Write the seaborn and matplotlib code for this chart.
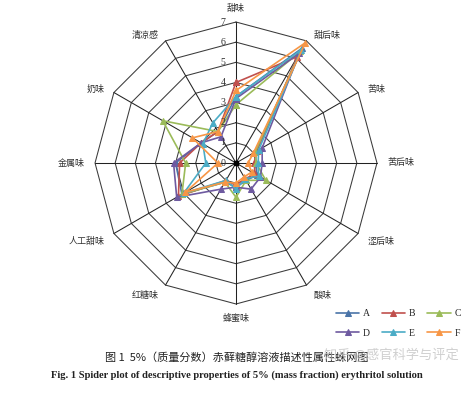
import numpy as np
import pandas as pd
import matplotlib
matplotlib.use("Agg")
import matplotlib.pyplot as plt
import seaborn as sns

# axes of the spider plot, clockwise from the top
attributes = ['甜味', '甜后味', '苦味', '苦后味', '涩后味', '酸味',
              '蜂蜜味', '红糖味', '人工甜味', '金属味', '奶味', '清凉感']

sample_a = [3.3, 6.6, 1.1, 1.0, 1.2, 1.0, 1.2, 1.1, 3.1, 3.0, 2.0, 1.8]
sample_b = [4.0, 6.1, 1.2, 0.9, 1.1, 0.9, 1.1, 1.0, 3.3, 2.8, 2.0, 1.8]
sample_c = [2.9, 6.4, 1.1, 1.0, 1.7, 1.0, 1.7, 1.1, 3.1, 2.5, 4.2, 1.8]
sample_d = [3.2, 6.3, 1.5, 1.3, 1.4, 1.5, 1.2, 1.5, 3.4, 3.1, 2.0, 1.5]
sample_e = [3.3, 6.5, 1.3, 1.1, 1.3, 0.9, 1.3, 1.0, 3.0, 1.5, 1.9, 2.3]
sample_f = [3.6, 6.9, 1.0, 0.6, 0.9, 0.8, 1.0, 1.1, 2.9, 0.9, 2.5, 1.8]

series_names = ['A', 'B', 'C', 'D', 'E', 'F']
series_values = [sample_a, sample_b, sample_c, sample_d, sample_e, sample_f]
colors = ['#4A74A8', '#C0504D', '#9BBB59', '#6E5AA0', '#4BACC6', '#F79646']

rings = [1, 2, 3, 4, 5, 6, 7]
tick_labels = ['0', '1', '2', '3', '4', '5', '6', '7']

sns.set_style('white')
plt.rcParams['font.family'] = ['Noto Sans CJK SC', 'DejaVu Sans']

n = len(attributes)
theta = np.arange(n) * 2 * np.pi / n

# long table: one closed polygon per sample
rows = []
for name, vals in zip(series_names, series_values):
    for k in list(range(n)) + [0]:
        rows.append({'sample': name,
                     'x': vals[k] * np.sin(theta[k]),
                     'y': vals[k] * np.cos(theta[k])})
df = pd.DataFrame(rows)

fig = plt.figure(figsize=(4.74, 3.93), dpi=100)
half = 163
unit = 20.14
ax = fig.add_axes([(236 - half) / 474, (393 - 163 - half) / 393,
                   2 * half / 474, 2 * half / 393])
lim = half / unit
ax.set_xlim(-lim, lim)
ax.set_ylim(-lim, lim)
ax.axis('off')

# polygon grid and spokes
closed = np.append(theta, theta[0])
for r in rings:
    ax.plot(r * np.sin(closed), r * np.cos(closed), color='#3a3a3a', lw=0.75, zorder=1)
for t in theta:
    ax.plot([0, 7 * np.sin(t)], [0, 7 * np.cos(t)], color='#222222', lw=0.75, zorder=1)
ax.plot([0], [0], marker='s', color='black', ms=3, zorder=5)

sns.lineplot(data=df, x='x', y='y', hue='sample', palette=colors, sort=False,
             estimator=None, units='sample', marker='^', markersize=5,
             linewidth=1.2, ax=ax, zorder=3)
for line in ax.lines:
    line.set_markeredgecolor(line.get_color())

handles, labels = ax.get_legend_handles_labels()
if ax.get_legend() is not None:
    ax.get_legend().remove()
# rows A B C / D E F
order = [0, 3, 1, 4, 2, 5]
fig.legend([handles[i] for i in order], [labels[i] for i in order], ncol=3,
           loc='upper left', bbox_to_anchor=(333 / 474, 1 - 306 / 393), frameon=False,
           handlelength=2.4, handletextpad=0.4, columnspacing=1.2,
           labelspacing=1.1, borderaxespad=0, borderpad=0.3,
           prop={'family': 'Liberation Serif', 'size': 7})

# attribute labels
for name, t in zip(attributes, theta):
    s, c = np.sin(t), np.cos(t)
    if abs(s) < 1e-6:
        ax.text(0, 7.7 * np.sign(c), name, ha='center', va='center', fontsize=6.5,
                color='#333333')
    else:
        ax.text(7.3 * s + 0.2 * np.sign(s), 7.3 * c - (0.25 if c < -0.1 else 0), name,
                ha='left' if s > 0 else 'right', va='center', fontsize=6.5,
                color='#333333')

# radial tick labels
for k, lab in enumerate(tick_labels):
    ax.text(-0.65, k, lab, ha='center', va='center', fontsize=7.2,
            family='Liberation Serif', color='#333333')

fig.text(0.5, 1 - 358 / 393, '图 1  5%（质量分数）赤藓糖醇溶液描述性属性蛛网图',
         ha='center', va='center', fontsize=8, color='#222222')
fig.text(0.5, 1 - 375 / 393,
         'Fig. 1 Spider plot of descriptive properties of 5% (mass fraction) erythritol solution',
         ha='center', va='center', fontsize=7.6, fontweight='bold',
         family='Liberation Serif', color='#222222')
fig.text(391 / 474, 1 - 355 / 393, '知乎 @感官科学与评定', ha='center', va='center',
         fontsize=9.5, color='#c4c4c4', alpha=0.8)

fig.savefig('out.png', dpi=100)
